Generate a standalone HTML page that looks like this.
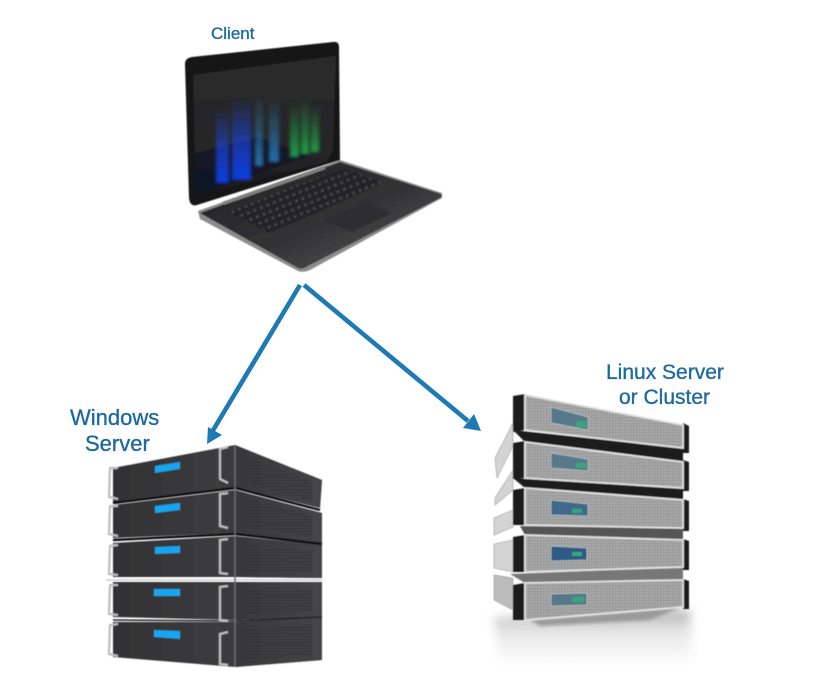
<!DOCTYPE html>
<html><head><meta charset="utf-8"><style>
html,body{margin:0;padding:0;background:#fff;width:827px;height:682px;overflow:hidden}
svg{display:block}
text{font-family:"Liberation Sans",sans-serif;fill:#1f6a9e;stroke:#1f6a9e;stroke-width:.35}
</style></head><body>
<svg width="827" height="682" viewBox="0 0 827 682" xmlns="http://www.w3.org/2000/svg">
<defs>
<filter id="b1" x="-5%" y="-5%" width="110%" height="110%"><feGaussianBlur stdDeviation="0.6"/></filter>
<filter id="b2" x="-30%" y="-20%" width="160%" height="140%"><feGaussianBlur stdDeviation="1.6"/></filter>
<filter id="b3" x="-20%" y="-30%" width="140%" height="160%"><feGaussianBlur stdDeviation="5"/></filter>
<filter id="bt"><feGaussianBlur stdDeviation="0.35"/></filter>
<linearGradient id="scr" x1="0" y1="0" x2="0" y2="1"><stop offset="0" stop-color="#2b2b2b"/><stop offset=".7" stop-color="#262628"/><stop offset="1" stop-color="#17171a"/></linearGradient>
<linearGradient id="base" x1="0" y1="0" x2="1" y2="1"><stop offset="0" stop-color="#1f1f21"/><stop offset=".55" stop-color="#333335"/><stop offset="1" stop-color="#5c5c5c"/></linearGradient>
<linearGradient id="bl" x1="0" y1="0" x2="0" y2="1"><stop offset="0" stop-color="#1a3fd0" stop-opacity="0"/><stop offset=".5" stop-color="#1a45d8" stop-opacity=".65"/><stop offset="1" stop-color="#1040e8" stop-opacity=".95"/></linearGradient>
<linearGradient id="bl2" x1="0" y1="0" x2="0" y2="1"><stop offset="0" stop-color="#2a80c0" stop-opacity="0"/><stop offset="1" stop-color="#2a80c0" stop-opacity=".85"/></linearGradient>
<linearGradient id="gr" x1="0" y1="0" x2="0" y2="1"><stop offset="0" stop-color="#1f9a45" stop-opacity="0"/><stop offset=".7" stop-color="#1f9a45" stop-opacity=".7"/><stop offset="1" stop-color="#1fa545" stop-opacity=".95"/></linearGradient>
<linearGradient id="refl" x1="0" y1="0" x2="0" y2="1"><stop offset="0" stop-color="#aaa"/><stop offset=".35" stop-color="#e4e4e4"/><stop offset="1" stop-color="#fff"/></linearGradient>
<linearGradient id="wf" x1="0" y1="0" x2="1" y2="0"><stop offset="0" stop-color="#323234"/><stop offset=".5" stop-color="#3c3c3e"/><stop offset="1" stop-color="#323234"/></linearGradient>
<linearGradient id="ws" x1="0" y1="0" x2="1" y2="0"><stop offset="0" stop-color="#38383a"/><stop offset="1" stop-color="#454547"/></linearGradient>
<pattern id="vent" width="3" height="3" patternUnits="userSpaceOnUse"><rect width="3" height="1" fill="#333335"/></pattern>
<pattern id="mesh" width="3" height="3" patternUnits="userSpaceOnUse"><rect width="3" height="3" fill="#a8a8a8"/><rect width="1.4" height="1.4" fill="#868686"/></pattern>
<pattern id="keys" width="7" height="7" patternUnits="userSpaceOnUse" patternTransform="rotate(-22)"><rect width="7" height="7" fill="#232325"/><rect x="1" y="1" width="5" height="4.5" fill="#2e2e30"/><rect x="3" y="3" width="1" height="1" fill="#777"/></pattern>
</defs>

<!-- Laptop -->
<g filter="url(#b1)">
<path d="M298 271 L200 219 L198 211 L340 160 L442 193 L442 198 L310 270 Q303 273 298 271Z" fill="#8c8c8c"/>
<path d="M298 268 L200 213 L340 162 L441 194 Q443 196 440 198 L308 266 Q302 270 298 268Z" fill="url(#base)"/>
<path d="M227 212 L343 168 L383 183 L270 233Z" fill="url(#keys)"/>
<path d="M323 220 L365 202 L392 213 L352 232Z" fill="#2f2f31"/>
<path d="M185 64 Q185 58 192 57 L333 42 Q339 41 339 47 L340 160 L197 205 Q190 207 189 198Z" fill="#151516"/>
<path d="M193 75 L336 56 L333 150 L327 162 L196 196Z" fill="url(#scr)"/>
<path d="M193 154 L258 137 L309 156 L196 195Z" fill="#0d1428" opacity=".75"/>
<g filter="url(#b2)">
<rect x="216" y="108" width="13" height="75" fill="url(#bl)"/>
<rect x="232" y="98" width="19" height="82" fill="url(#bl)"/>
<rect x="255" y="94" width="8" height="72" fill="url(#bl2)"/>
<rect x="269" y="98" width="10" height="64" fill="url(#bl2)"/>
<rect x="290" y="103" width="9" height="54" fill="url(#gr)"/>
<rect x="301" y="98" width="8" height="56" fill="url(#gr)"/>
<rect x="311" y="106" width="8" height="46" fill="url(#gr)"/>
</g>
<path d="M222 202 L323 166 L326 169 L224 205Z" fill="#808080"/>
</g>

<!-- Windows server stack -->
<g filter="url(#b1)">
<path d="M113 622 L235 622 L322 617 L322 660 L235 667 L113 657Z" fill="url(#wf)"/>
<path d="M235 622 L322 617 L322 660 L235 667Z" fill="url(#ws)"/>
<path d="M245 630 L312 624 L312 655 L245 660Z" fill="url(#vent)"/>
<path d="M113 582 L322 582 L322 617 L235 620 L113 617Z" fill="url(#wf)"/>
<path d="M235 582 L322 582 L322 617 L235 620Z" fill="url(#ws)"/>
<path d="M245 589 L312 589 L312 612 L245 613Z" fill="url(#vent)"/>
<path d="M113 543 L235 536 L322 545 L322 578 L235 577 L113 577Z" fill="url(#wf)"/>
<path d="M235 536 L322 545 L322 578 L235 577Z" fill="url(#ws)"/>
<path d="M245 545 L312 551 L312 572 L245 571Z" fill="url(#vent)"/>
<path d="M113 505 L235 490 L322 513 L322 543 L235 533 L113 538Z" fill="url(#wf)"/>
<path d="M235 490 L322 513 L322 543 L235 533Z" fill="url(#ws)"/>
<path d="M245 498 L312 515 L312 536 L245 527Z" fill="url(#vent)"/>
<path d="M113 468 L235 445 L322 480 L320 508 L235 487 L113 502Z" fill="url(#wf)"/>
<path d="M235 445 L322 480 L320 508 L235 487Z" fill="url(#ws)"/>
<path d="M245 456 L312 482 L312 502 L245 481Z" fill="url(#vent)"/>
<path d="M113 503 L235 488 L320 510 M113 540 L235 534 L322 544" stroke="#111" stroke-width="2.4" fill="none"/>
<path d="M106 580 L322 580" stroke="#d8d8d8" stroke-width="2" fill="none"/>
<path d="M113 620 L235 621 L322 617" stroke="#222" stroke-width="1.5" fill="none"/>
<path d="M235 445V667" stroke="#6a6a6a" stroke-width="1.6"/>
<g stroke="#bdbdbd" stroke-width="2.2" fill="none">
<path d="M118 468 L110 468 L109 497 L118 499"/>
<path d="M118 506 L110 506 L109 534 L118 536"/>
<path d="M118 545 L110 546 L109 574 L118 575"/>
<path d="M118 585 L110 585 L109 614 L118 615"/>
<path d="M118 624 L110 625 L109 654 L118 656"/>
<path d="M228 447 L220 449 L220 479 L228 483"/>
<path d="M228 493 L220 494 L220 526 L228 528"/>
<path d="M228 539 L220 540 L220 573 L228 574"/>
<path d="M228 586 L220 587 L220 620 L228 621"/>
<path d="M228 632 L220 634 L220 664 L228 665"/>
</g>
<g fill="#15a5ee">
<path d="M155 466 L180 462 L180 469 L155 473Z"/>
<path d="M155 506 L180 503 L180 510 L155 513Z"/>
<path d="M155 547 L180 546 L180 553 L155 554Z"/>
<path d="M154 589 L180 589 L180 596 L154 596Z"/>
<path d="M154 630 L180 631 L180 639 L154 637Z"/>
</g>
</g>

<!-- Linux server stack -->
<path d="M494 618 L690 610 L692 664 L500 665Z" fill="url(#refl)" filter="url(#b3)"/>
<g filter="url(#b1)">
<g fill="#d4d4d4" stroke="#999" stroke-width=".6">
<path d="M513 423 L495 458 L497 478 L513 446Z"/>
<path d="M513 470 L495 498 L495 505 L513 490Z"/>
<path d="M513 510 L494 518 L494 535 L513 527Z"/>
<path d="M513 540 L494 544 L494 568 L513 572Z"/>
<path d="M513 578 L494 575 L494 600 L513 610Z" fill="#bcbcbc"/>
</g>
<path d="M513 430 L683 448 L683 462 L525 442Z" fill="#1a1a1a"/>
<path d="M513 478 L683 488 L683 500 L525 488Z" fill="#1c1c1c"/>
<path d="M520 526 L683 528 L683 540 L525 535Z" fill="#555"/>
<path d="M510 574 L683 567 L683 580 L525 583Z" fill="#777"/>
<path d="M530 620 L683 607 L650 620 L540 626Z" fill="#9a9a9a" filter="url(#b2)"/>
<g fill="#1d1d1f">
<path d="M513 396 L525 394 L525 430 L513 432Z"/>
<path d="M513 443 L525 441 L525 478 L513 479Z"/>
<path d="M513 490 L525 488 L525 525 L513 525Z"/>
<path d="M513 537 L525 535 L525 572 L513 572Z"/>
<path d="M513 585 L525 583 L525 620 L513 620Z"/>
<path d="M683 423 L689 426 L689 453 L683 453Z"/>
<path d="M683 460 L689 462 L689 491 L683 491Z"/>
<path d="M683 499 L689 501 L689 531 L683 531Z"/>
<path d="M683 539 L689 541 L689 570 L683 570Z"/>
<path d="M683 579 L689 581 L689 609 L683 609Z"/>
</g>
<g fill="url(#mesh)" stroke="#e2e2e2" stroke-width="1.8">
<path d="M525 395 L683 425 L683 448 L525 430Z"/>
<path d="M525 442 L683 462 L683 488 L525 478Z"/>
<path d="M525 488 L683 500 L683 528 L525 525Z"/>
<path d="M525 535 L683 540 L683 567 L525 572Z"/>
<path d="M525 583 L683 580 L683 607 L525 620Z"/>
</g>
<g fill="#56788a" stroke="#b8c4c4" stroke-width=".8">
<path d="M551 407 L588 417 L588 430 L551 423Z"/>
<path d="M551 453 L588 459 L588 471 L551 468Z"/>
<path d="M551 500 L588 504 L588 516 L551 515Z" fill="#3f6a8a"/>
<path d="M551 546 L587 548 L587 560 L551 561Z" fill="#2f5a88"/>
<path d="M551 594 L587 593 L587 605 L551 606Z"/>
</g>
<g fill="#39a67c">
<rect x="576" y="421" width="10" height="6"/><rect x="576" y="463" width="10" height="5"/><rect x="572" y="509" width="10" height="4"/><rect x="572" y="552" width="10" height="4"/><rect x="572" y="597" width="12" height="5"/>
</g>
</g>

<!-- Arrows -->
<g filter="url(#bt)">
<path d="M300 285 L212 432" stroke="#1a7ab5" stroke-width="4.6" fill="none"/>
<path d="M207 444 L208 427 L222 435Z" fill="#1a7ab5"/>
<path d="M304 285 L468 421" stroke="#1a7ab5" stroke-width="4.6" fill="none"/>
<path d="M481 431 L463 428 L474 414Z" fill="#1a7ab5"/>
</g>

<!-- Labels -->
<g filter="url(#bt)">
<text x="211" y="39" font-size="17">Client</text>
<text x="70" y="425" font-size="22">Windows</text>
<text x="85" y="451" font-size="22">Server</text>
<text x="606" y="379" font-size="21">Linux Server</text>
<text x="619" y="404" font-size="21">or Cluster</text>
</g>
</svg>
</body></html>
